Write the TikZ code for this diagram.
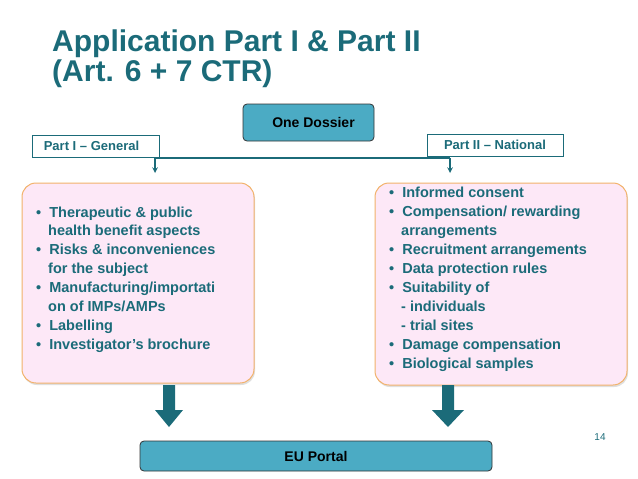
\documentclass[tikz,border=0pt]{standalone}
\usepackage{fontspec}
\setmainfont{Liberation Sans}
\usetikzlibrary{shadows}
\definecolor{teal1}{HTML}{1B6B79}
\definecolor{boxblue}{HTML}{4BABC4}
\definecolor{pinkf}{HTML}{FDE8F7}
\definecolor{orng}{HTML}{F2B26A}
\begin{document}
\begin{tikzpicture}[x=1pt,y=-1pt,
  blue box/.style={draw=black!80,fill=boxblue,rounded corners=4pt,line width=0.8pt,font=\bfseries\fontsize{14}{16}\selectfont},
  part box/.style={draw=teal1,fill=white,line width=0.8pt,text=teal1,font=\bfseries\fontsize{13}{15}\selectfont,inner sep=0pt},
  list box/.style={draw=orng,fill=pinkf,rounded corners=14pt,line width=1pt,drop shadow={opacity=0.25,shadow xshift=1pt,shadow yshift=-2pt}},
  listtxt/.style={text=teal1,font=\bfseries\fontsize{14.5}{19}\selectfont,align=left,anchor=north west,inner sep=0pt},
  fat/.style={fill=teal1,draw=none}]
\useasboundingbox (0,0) rectangle (638,479);
\node[anchor=north west,text=teal1,font=\bfseries\fontsize{30}{30}\selectfont,align=left,inner sep=0pt] (title) at (52,30) {Application Part I \& Part II\\(Art. 6 + 7 CTR)};
\node[blue box,minimum width=131pt,minimum height=37pt] (dos) at (308.5,122.5) {\hspace{10pt}One Dossier};
\node[part box,minimum width=127pt,minimum height=22pt] (p1) at (95.5,146) {\hspace{-8pt}Part I -- General};
\node[part box,minimum width=136pt,minimum height=22pt] (p2) at (495,145) {Part II -- National};
\node[list box,minimum width=232pt,minimum height=200pt] (lb) at (138,283) {};
\node[list box,minimum width=252pt,minimum height=202pt] (rb) at (501,284) {};
\coordinate (la) at (155,158);
\coordinate (ra) at (450,158);
\draw[teal1,line width=1.5pt] (la) -- (ra);
\draw[teal1,line width=1.5pt,-stealth] (la) -- (155,173);
\draw[teal1,line width=1.5pt,-stealth] (ra) -- (450,173);
\node[listtxt] (lt) at (36,207) {%
\textbullet\ \ Therapeutic \& public\\[-1pt]
\hspace*{12pt}health benefit aspects\\
\textbullet\ \ Risks \& inconveniences\\
\hspace*{12pt}for the subject\\
\textbullet\ \ Manufacturing/importati\\
\hspace*{12pt}on of IMPs/AMPs\\
\textbullet\ \ Labelling\\
\textbullet\ \ Investigator’s brochure};
\node[listtxt] (rt) at (389,187) {%
\textbullet\ \ Informed consent\\
\textbullet\ \ Compensation/ rewarding\\
\hspace*{12pt}arrangements\\
\textbullet\ \ Recruitment arrangements\\
\textbullet\ \ Data protection rules\\
\textbullet\ \ Suitability of\\
\hspace*{12pt}- individuals\\
\hspace*{12pt}- trial sites\\
\textbullet\ \ Damage compensation\\
\textbullet\ \ Biological samples};
\fill[fat] (163,385) -- (175,385) -- (175,410) -- (183,410) -- (169,427) -- (155,410) -- (163,410) -- cycle;
\fill[fat] (442,385) -- (454,385) -- (454,410) -- (464,410) -- (448,427) -- (432,410) -- (442,410) -- cycle;
\node[blue box,minimum width=352pt,minimum height=30pt] (eu) at (316,456) {EU Portal};
\node[text=teal1,font=\fontsize{10}{12}\selectfont] (pg) at (600,437) {14};
\end{tikzpicture}
\end{document}
